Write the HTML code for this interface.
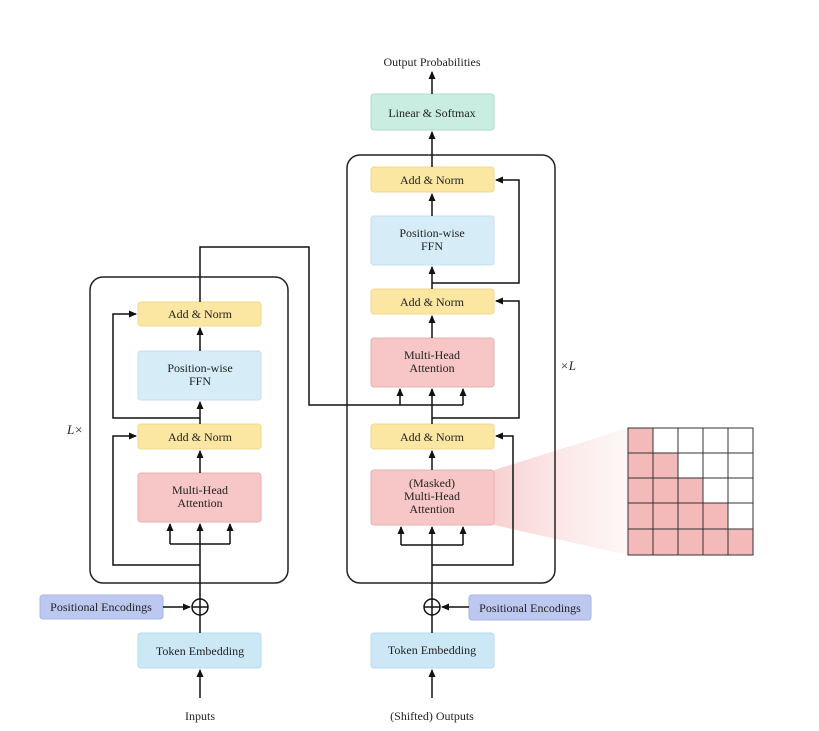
<!DOCTYPE html>
<html><head><meta charset="utf-8"><style>
body{margin:0;background:#fff}
svg text{font-family:"Liberation Serif",serif;font-size:12px;fill:#222;text-anchor:middle}
</style></head><body>
<svg width="819" height="726" viewBox="0 0 819 726" xmlns="http://www.w3.org/2000/svg">
<defs>
<marker id="a" markerWidth="8" markerHeight="8" refX="7" refY="4" orient="auto" markerUnits="userSpaceOnUse"><path d="M0,0.5 L8,4 L0,7.5z" fill="#111"/></marker>
<linearGradient id="g" x1="0" x2="1"><stop offset="0" stop-color="#f7c5c5" stop-opacity="0.8"/><stop offset="1" stop-color="#fbe3e3" stop-opacity="0.3"/></linearGradient>
</defs>
<polygon points="494,470 628,428 628,555 494,525" fill="url(#g)"/>
<g stroke="#222" stroke-width="1.5" fill="none">
<rect x="90" y="277" width="198" height="306" rx="13"/>
<rect x="347" y="155" width="208" height="428" rx="13"/>
</g>
<!-- boxes -->
<g stroke-width="1">
<rect x="138" y="302" width="123" height="24" rx="3" fill="#fbe6a2" stroke="#f0d890"/>
<rect x="138" y="351" width="123" height="49" rx="3" fill="#d6edf8" stroke="#c2dff0"/>
<rect x="138" y="424" width="123" height="25" rx="3" fill="#fbe6a2" stroke="#f0d890"/>
<rect x="138" y="473" width="123" height="49" rx="3" fill="#f7c6c6" stroke="#eab0b0"/>
<rect x="40" y="595" width="123" height="24" rx="3" fill="#bcc8f0" stroke="#a8b6e4"/>
<rect x="138" y="633" width="123" height="35" rx="3" fill="#cce8f6" stroke="#b4dbef"/>
<rect x="371" y="94" width="123" height="36" rx="3" fill="#c9ede1" stroke="#aedcc9"/>
<rect x="371" y="167" width="123" height="25" rx="3" fill="#fbe6a2" stroke="#f0d890"/>
<rect x="371" y="216" width="123" height="49" rx="3" fill="#d6edf8" stroke="#c2dff0"/>
<rect x="371" y="289" width="123" height="25" rx="3" fill="#fbe6a2" stroke="#f0d890"/>
<rect x="371" y="338" width="123" height="49" rx="3" fill="#f7c6c6" stroke="#eab0b0"/>
<rect x="371" y="424" width="123" height="25" rx="3" fill="#fbe6a2" stroke="#f0d890"/>
<rect x="371" y="470" width="123" height="55" rx="3" fill="#f7c6c6" stroke="#eab0b0"/>
<rect x="469" y="595" width="122" height="25" rx="3" fill="#bcc8f0" stroke="#a8b6e4"/>
<rect x="371" y="633" width="123" height="35" rx="3" fill="#cce8f6" stroke="#b4dbef"/>
</g>
<!-- grid -->
<g>
<rect x="628" y="428" width="25" height="25" fill="#f4b9b9"/>
<rect x="628" y="453" width="50" height="25" fill="#f4b9b9"/>
<rect x="628" y="478" width="75" height="25" fill="#f4b9b9"/>
<rect x="628" y="503" width="100" height="26" fill="#f4b9b9"/>
<rect x="628" y="529" width="125" height="26" fill="#f4b9b9"/>
<g stroke="#333" stroke-width="1" fill="none">
<rect x="628" y="428" width="125" height="127"/>
<path d="M653,428V555M678,428V555M703,428V555M728,428V555M628,453H753M628,478H753M628,503H753M628,529H753"/>
</g>
</g>
<!-- connectors -->
<g stroke="#111" stroke-width="1.5" fill="none">
<path d="M200,698V670" marker-end="url(#a)"/>
<path d="M200,633V615"/>
<circle cx="200" cy="607" r="8"/>
<path d="M192,607H208M200,599V615"/>
<path d="M163,607H190" marker-end="url(#a)"/>
<path d="M200,599V524" marker-end="url(#a)"/>
<path d="M170,544H230"/>
<path d="M170,544V524" marker-end="url(#a)"/>
<path d="M230,544V524" marker-end="url(#a)"/>
<path d="M200,565H113V436H136" marker-end="url(#a)"/>
<path d="M200,473V451" marker-end="url(#a)"/>
<path d="M200,424V402" marker-end="url(#a)"/>
<path d="M200,418H113V314H136" marker-end="url(#a)"/>
<path d="M200,351V328" marker-end="url(#a)"/>
<path d="M200,302V247H309V405H463"/>
<path d="M432,698V670" marker-end="url(#a)"/>
<path d="M432,633V615"/>
<circle cx="432" cy="607" r="8"/>
<path d="M424,607H440M432,599V615"/>
<path d="M469,607H442" marker-end="url(#a)"/>
<path d="M432,599V527" marker-end="url(#a)"/>
<path d="M401,545H463"/>
<path d="M401,545V527" marker-end="url(#a)"/>
<path d="M463,545V527" marker-end="url(#a)"/>
<path d="M432,565H513V436H496" marker-end="url(#a)"/>
<path d="M432,470V451" marker-end="url(#a)"/>
<path d="M432,424V389" marker-end="url(#a)"/>
<path d="M400,405V389" marker-end="url(#a)"/>
<path d="M463,405V389" marker-end="url(#a)"/>
<path d="M432,418H519V301H496" marker-end="url(#a)"/>
<path d="M432,338V316" marker-end="url(#a)"/>
<path d="M432,289V267" marker-end="url(#a)"/>
<path d="M432,283H519V180H496" marker-end="url(#a)"/>
<path d="M432,216V194" marker-end="url(#a)"/>
<path d="M432,167V132" marker-end="url(#a)"/>
<path d="M432,94V72" marker-end="url(#a)"/>
</g>
<!-- text -->
<text x="200" y="318">Add &amp; Norm</text>
<text x="200" y="372">Position-wise</text>
<text x="200" y="385">FFN</text>
<text x="200" y="441">Add &amp; Norm</text>
<text x="200" y="494">Multi-Head</text>
<text x="200" y="507">Attention</text>
<text x="101" y="611">Positional Encodings</text>
<text x="200" y="655">Token Embedding</text>
<text x="200" y="720">Inputs</text>
<text x="432" y="66">Output Probabilities</text>
<text x="432" y="117">Linear &amp; Softmax</text>
<text x="432" y="184">Add &amp; Norm</text>
<text x="432" y="237">Position-wise</text>
<text x="432" y="250">FFN</text>
<text x="432" y="306">Add &amp; Norm</text>
<text x="432" y="359">Multi-Head</text>
<text x="432" y="372">Attention</text>
<text x="432" y="441">Add &amp; Norm</text>
<text x="432" y="487">(Masked)</text>
<text x="432" y="500">Multi-Head</text>
<text x="432" y="513">Attention</text>
<text x="530" y="612">Positional Encodings</text>
<text x="432" y="654">Token Embedding</text>
<text x="432" y="720">(Shifted) Outputs</text>
<text x="568" y="370" style="font-style:italic;font-size:13px">×L</text>
<text x="75" y="434" style="font-style:italic;font-size:13px">L×</text>
</svg>
</body></html>
